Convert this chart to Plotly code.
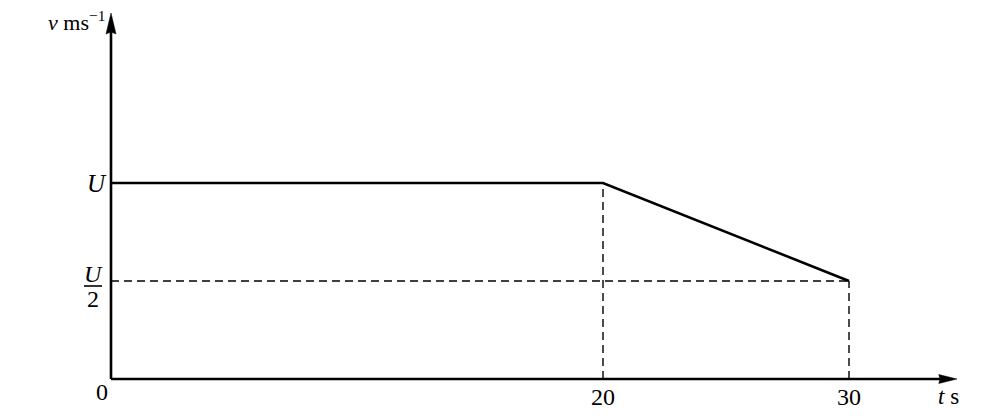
import plotly.graph_objects as go

# ---- data ----
U = 2.0
time_s = [0, 20, 30]
velocity = [U, U, U / 2]
x_tick_vals = [0, 20, 30]
x_tick_text = ["0", "20", "30"]
y_tick_vals = [U, U / 2]

# ---- pixel <-> data mapping (plot area fills the whole figure) ----
W, H = 1000, 420
PAGE_OFF = 8           # default page margin of the browser
X0, PX_X = 111, 24.6   # screen pixel of t=0, px per second
Y0, PX_Y = 379, 98     # screen pixel of v=0, px per unit


def dx(px):
    return (px - X0) / PX_X


def dy(py):
    return (Y0 - py) / PX_Y


FONT = "Liberation Serif, Times New Roman, serif"
BLACK = "#000000"

fig = go.Figure()

# axis lines
x_tip, x_base = dx(957), dx(940)
y_tip, y_base = dy(13), dy(32)
fig.add_trace(go.Scatter(x=[0, x_base], y=[0, 0], mode="lines",
                         line=dict(color=BLACK, width=2.6), hoverinfo="skip"))
fig.add_trace(go.Scatter(x=[0, 0], y=[0, y_base], mode="lines",
                         line=dict(color=BLACK, width=2.6), hoverinfo="skip"))
# arrowheads
hw_x = 4.5 / PX_Y
fig.add_trace(go.Scatter(x=[x_base - 0.05, x_tip, x_base - 0.05, x_base, x_base - 0.05],
                         y=[hw_x, 0, -hw_x, 0, hw_x], mode="lines", fill="toself",
                         fillcolor=BLACK, line=dict(color=BLACK, width=0.5), hoverinfo="skip"))
hw_y = 5 / PX_X
fig.add_trace(go.Scatter(x=[-hw_y, 0, hw_y, 0, -hw_y],
                         y=[y_base - 0.02, y_tip, y_base - 0.02, y_base, y_base - 0.02],
                         mode="lines", fill="toself",
                         fillcolor=BLACK, line=dict(color=BLACK, width=0.5), hoverinfo="skip"))

# dashed guide lines
dash = dict(color=BLACK, width=1.4, dash="8px,5px")
fig.add_trace(go.Scatter(x=[time_s[1], time_s[1]], y=[0, velocity[1]], mode="lines",
                         line=dash, hoverinfo="skip"))
fig.add_trace(go.Scatter(x=[time_s[2], time_s[2]], y=[0, velocity[2]], mode="lines",
                         line=dash, hoverinfo="skip"))
fig.add_trace(go.Scatter(x=[0, time_s[2]], y=[velocity[2], velocity[2]], mode="lines",
                         line=dash, hoverinfo="skip"))

# main velocity-time graph
fig.add_trace(go.Scatter(x=time_s, y=velocity, mode="lines",
                         line=dict(color=BLACK, width=2.6), hoverinfo="skip"))

ann = []
# x tick labels
ann.append(dict(x=dx(102), y=dy(392), text=x_tick_text[0], font=dict(size=24)))
for v, t in zip(x_tick_vals[1:], x_tick_text[1:]):
    ann.append(dict(x=v, y=dy(397), text=t, font=dict(size=24)))
# axis titles
ann.append(dict(x=dx(948), y=dy(396), text="<i>t</i> s", font=dict(size=23)))
ann.append(dict(x=dx(76), y=dy(21), text="<i>v</i> ms<sup>−1</sup>", font=dict(size=22)))
# y tick labels
ann.append(dict(x=dx(97), y=y_tick_vals[0], text="<i>U</i>", font=dict(size=25)))
ann.append(dict(x=dx(93), y=dy(274), text="<i>U</i>", font=dict(size=24)))
ann.append(dict(x=dx(93), y=dy(299), text="2", font=dict(size=24)))
for a in ann:
    a.update(xref="x", yref="y", showarrow=False, xanchor="center", yanchor="middle")
    a["font"].update(family=FONT, color=BLACK)

fig.add_shape(type="line", xref="x", yref="y", x0=dx(84), x1=dx(102),
              y0=dy(286), y1=dy(286), line=dict(color=BLACK, width=1.6))

fig.update_layout(
    width=W, height=H,
    margin=dict(l=0, r=0, t=0, b=0),
    paper_bgcolor="white", plot_bgcolor="white",
    showlegend=False,
    annotations=ann,
    xaxis=dict(range=[dx(PAGE_OFF), dx(PAGE_OFF + W)], visible=False, fixedrange=True),
    yaxis=dict(range=[dy(PAGE_OFF + H), dy(PAGE_OFF)], visible=False, fixedrange=True),
)

fig.write_html("out.html")
